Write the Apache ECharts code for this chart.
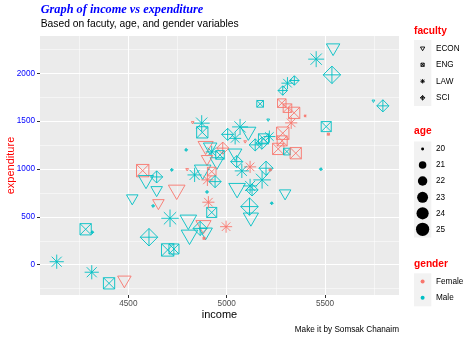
<!DOCTYPE html>
<html><head><meta charset="utf-8">
<script src="https://cdn.jsdelivr.net/npm/echarts@6/dist/echarts.min.js"></script>
<style>html,body{margin:0;padding:0;background:#fff}#c{width:474px;height:338px}</style>
</head><body><div id="c"></div>
<script>
// ---- data ----
const income = [
 5541,5455,5535,5746,5794,5344,5309,5285,5170,5211,
 5280,5309,5343,5328,5399,5506,5517,5285,5282,5262,
 5306,5351,5479,4827,4873,4876,5005,5068,5110,5217,
 5145,5179,5187,5094,5051,5119,5200,5221,5077,5053,
 5180,5119,5129,5297,5229,5116,5123,4997,4924,4907,
 4900,4882,4893,4865,4885,4573,4644,4590,4644,4721,
 4799,4746,4520,4653,4626,4837,4712,4805,4811,4605,
 4700,4732,4283,4317,4136,4314,4402,4480,4794,4893,
 4916,4980,4924,4950,4900,5043,5043,4878,4924,4902,
 4941,4966];
const expenditure = [
 2267,2148,1984,1712,1660,1925,1897,1820,1681,1514,
 1688,1636,1587,1482,1555,1443,1364,1374,1294,1210,
 1182,1165,998,1487,1479,1383,1362,1440,1391,1339,
 1252,1270,1315,1287,1077,1022,1008,991,980,799,
 886,823,781,747,642,607,494,397,546,653,
 760,415,342,379,276,983,917,886,781,991,
 996,781,695,645,614,938,485,468,311,287,
 154,164,370,339,31,-79,-195,-160,1200,1242,
 1231,1218,1179,1077,1106,1168,1320,991,973,886,
 868,1147];
const age = [
 23,24,25,20,22,21,22,21,21,20,
 22,22,24,22,20,23,20,25,23,24,
 21,24,20,20,24,24,22,24,24,22,
 22,22,23,20,22,22,23,20,23,25,
 25,23,22,22,20,25,24,22,23,22,
 20,24,23,23,20,25,22,24,22,20,
 20,25,22,22,20,23,25,25,25,25,
 25,23,24,20,23,23,24,23,20,24,
 23,22,22,23,22,23,22,25,22,22,
 22,22];
const faculty = [
 'ECON','LAW','SCI','ECON','SCI','SCI','LAW','SCI','ENG','ECON',
 'ENG','ENG','ENG','LAW','LAW','ENG','ENG','ENG','ENG','ENG',
 'ENG','ENG','SCI','ECON','LAW','ENG','SCI','LAW','ECON','LAW',
 'SCI','SCI','ENG','ECON','SCI','LAW','SCI','ENG','LAW','ECON',
 'LAW','LAW','SCI','ECON','SCI','SCI','ECON','LAW','ENG','LAW',
 'SCI','ECON','ECON','SCI','ENG','ENG','SCI','ECON','ECON','SCI',
 'ECON','ECON','ECON','ECON','SCI','LAW','LAW','ECON','ECON','SCI',
 'ENG','ENG','ENG','SCI','LAW','LAW','ENG','ECON','SCI','ECON',
 'ECON','SCI','LAW','ECON','ECON','ECON','LAW','ECON','ENG','LAW',
 'SCI','ENG'];
const gender = [
 'Male','Male','Male','Male','Male','Male','Male','Male','Male','Male',
 'Female','Female','Female','Female','Female','Male','Female','Female','Female','Female',
 'Male','Female','Male','Female','Male','Male','Male','Male','Male','Male',
 'Male','Male','Male','Female','Male','Female','Male','Female','Male','Male',
 'Male','Male','Male','Male','Male','Male','Male','Female','Male','Female',
 'Male','Female','Male','Male','Female','Female','Male','Male','Male','Male',
 'Female','Female','Male','Female','Male','Male','Male','Male','Male','Male',
 'Male','Male','Male','Male','Male','Male','Male','Female','Male','Female',
 'Male','Female','Male','Male','Female','Male','Male','Male','Female','Female',
 'Male','Male'];
const xTicks = [4500, 5000, 5500];
const xMinor = [4250, 4750, 5250, 5750];
const yTicks = [0, 500, 1000, 1500, 2000];
const yMinor = [-250, 250, 750, 1250, 1750, 2250];
const facultyLevels = ['ECON', 'ENG', 'LAW', 'SCI'];
const ageLevels = [20, 21, 22, 23, 24, 25];
const genderLevels = ['Female', 'Male'];

// ---- styling ----
const genderColor = { Female: '#F8766D', Male: '#00BFC4' };
const shapePath = {
  ECON: 'M0,0L10,0L5,8.66Z',
  ENG: 'M0,0L10,0L10,10L0,10ZM0,0L10,10M10,0L0,10',
  LAW: 'M5,0L5,10M0,5L10,5M1.464,1.464L8.536,8.536M8.536,1.464L1.464,8.536',
  SCI: 'M5,0L10,5L5,10L0,5ZM5,0L5,10M0,5L10,5'
};
const shapeDim = { ECON: [2.69, 2.33, 0.39], ENG: [2, 2, 0], LAW: [2.83, 2.83, 0], SCI: [2.83, 2.83, 0] };
function radiusFor(a) { return 1.03 * (1 + 5 * Math.sqrt((a - 20) / 5)); }
const SANS = 'Liberation Sans, Arial, sans-serif';

const data = income.map((v, i) => {
  const R = radiusFor(age[i]);
  const d = shapeDim[faculty[i]];
  return {
    value: [v, expenditure[i], age[i]],
    symbol: 'path://' + shapePath[faculty[i]],
    symbolSize: [d[0] * R, d[1] * R],
    symbolOffset: [0, d[2] * R],
    itemStyle: { color: 'rgba(0,0,0,0)', borderColor: genderColor[gender[i]], borderWidth: 0.9, opacity: 1 }
  };
});

// ---- legend graphics ----
const g = [];
const KX = 414, KW = 17.3, KC = KX + 8.6, LX = 436;
function txt(x, y, s, opt) {
  return { type: 'text', x: x, y: y, style: Object.assign({ text: s, fill: '#000', font: '8.2px ' + SANS, textVerticalAlign: 'middle' }, opt || {}) };
}
function seg(x1, y1, x2, y2, c) {
  return { type: 'line', shape: { x1: x1, y1: y1, x2: x2, y2: y2 }, style: { stroke: c, lineWidth: 0.9 } };
}
function glyph(f, cx, cy, R, c) {
  const st = { fill: 'none', stroke: c, lineWidth: 0.9 };
  if (f === 'ECON') {
    const w = 1.347 * R, top = cy - 0.777 * R, bot = cy + 1.555 * R;
    return [{ type: 'polygon', shape: { points: [[cx - w, top], [cx + w, top], [cx, bot]] }, style: st }];
  }
  if (f === 'ENG') {
    return [{ type: 'rect', shape: { x: cx - R, y: cy - R, width: 2 * R, height: 2 * R }, style: st },
      seg(cx - R, cy - R, cx + R, cy + R, c), seg(cx + R, cy - R, cx - R, cy + R, c)];
  }
  const r = 1.414 * R;
  if (f === 'LAW') {
    return [seg(cx, cy - r, cx, cy + r, c), seg(cx - r, cy, cx + r, cy, c),
      seg(cx - R, cy - R, cx + R, cy + R, c), seg(cx + R, cy - R, cx - R, cy + R, c)];
  }
  return [{ type: 'polygon', shape: { points: [[cx, cy - r], [cx + r, cy], [cx, cy + r], [cx - r, cy]] }, style: st },
    seg(cx, cy - r, cx, cy + r, c), seg(cx - r, cy, cx + r, cy, c)];
}
// titles
g.push(txt(40.7, 9.8, 'Graph of income vs expenditure', { fill: '#0000FF', font: 'italic bold 12.3px Liberation Serif, Times New Roman, serif' }));
g.push(txt(40.7, 23.8, 'Based on facuty, age, and gender variables', { font: '10.3px ' + SANS }));
g.push(txt(219.5, 315, 'income', { font: '11px ' + SANS, textAlign: 'center' }));
g.push({ type: 'text', x: 10.5, y: 165.5, rotation: Math.PI / 2, style: { text: 'expenditure', fill: '#FF0000', font: '11px ' + SANS, textAlign: 'center', textVerticalAlign: 'middle' } });
g.push(txt(399, 329.5, 'Make it by Somsak Chanaim', { textAlign: 'right' }));
// faculty legend
g.push(txt(KX, 31, 'faculty', { fill: '#FF0000', font: 'bold 10.2px ' + SANS }));
g.push({ type: 'rect', shape: { x: KX, y: 40, width: KW, height: 66 }, style: { fill: '#F2F2F2' } });
const facY = [48.25, 64.75, 81.25, 97.75];
facultyLevels.forEach((f, k) => {
  glyph(f, KC, facY[k], 1.6, '#000').forEach(e => g.push(e));
  g.push(txt(LX, facY[k], f));
});
// age legend
g.push(txt(KX, 131, 'age', { fill: '#FF0000', font: 'bold 10.2px ' + SANS }));
g.push({ type: 'rect', shape: { x: KX, y: 141.5, width: KW, height: 96 }, style: { fill: '#F2F2F2' } });
const ageY = [149, 165, 181, 197.3, 213.3, 229.3];
ageLevels.forEach((a, k) => {
  g.push({ type: 'circle', shape: { cx: KC, cy: ageY[k], r: radiusFor(a) + 0.45 }, style: { fill: '#000' } });
  g.push(txt(LX, ageY[k], String(a)));
});
// gender legend
g.push(txt(KX, 264.5, 'gender', { fill: '#FF0000', font: 'bold 10.2px ' + SANS }));
g.push({ type: 'rect', shape: { x: KX, y: 273.3, width: KW, height: 33 }, style: { fill: '#F2F2F2' } });
const genY = [281.6, 297.8];
genderLevels.forEach((s, k) => {
  g.push({ type: 'circle', shape: { cx: KC, cy: genY[k], r: 2 }, style: { fill: genderColor[s] } });
  g.push(txt(LX, genY[k], s));
});

const plain = v => String(v);
const XMIN = 4051, XMAX = 5876, YMIN = -317, YMAX = 2390;
const chart = echarts.init(document.getElementById('c'), null, { renderer: 'canvas' });
chart.setOption({
  animation: false,
  backgroundColor: '#FFFFFF',
  grid: { left: 40, right: 75, top: 36, bottom: 43, show: true, backgroundColor: '#EBEBEB', borderWidth: 0 },
  xAxis: [
    { type: 'value', min: XMIN, max: XMAX, position: 'bottom',
      axisLine: { show: false, onZero: false },
      axisTick: { show: true, length: 3, lineStyle: { color: '#333333', width: 1 }, customValues: xTicks },
      axisLabel: { customValues: xTicks, formatter: plain, color: '#4D4D4D', fontFamily: SANS, fontSize: 8.2, margin: 5 },
      splitLine: { show: true, lineStyle: { color: '#FFFFFF', width: 1 } } },
    { type: 'value', min: XMIN, max: XMAX, position: 'top', z: 0,
      axisLine: { show: false, onZero: false }, axisLabel: { show: false },
      axisTick: { show: false, customValues: xMinor },
      splitLine: { show: true, lineStyle: { color: '#FFFFFF', width: 0.5 } } }
  ],
  yAxis: [
    { type: 'value', min: YMIN, max: YMAX, position: 'left',
      axisLine: { show: false, onZero: false },
      axisTick: { show: true, length: 3, lineStyle: { color: '#333333', width: 1 }, customValues: yTicks },
      axisLabel: { customValues: yTicks, formatter: plain, color: '#0000FF', fontFamily: SANS, fontSize: 8.2, margin: 5 },
      splitLine: { show: true, lineStyle: { color: '#FFFFFF', width: 1 } } },
    { type: 'value', min: YMIN, max: YMAX, position: 'right', z: 0,
      axisLine: { show: false, onZero: false }, axisLabel: { show: false },
      axisTick: { show: false, customValues: yMinor },
      splitLine: { show: true, lineStyle: { color: '#FFFFFF', width: 0.5 } } }
  ],
  series: [{
    type: 'scatter', xAxisIndex: 0, yAxisIndex: 0, data: data, z: 3,
    emphasis: { disabled: true }
  }],
  graphic: g
});
</script></body></html>
